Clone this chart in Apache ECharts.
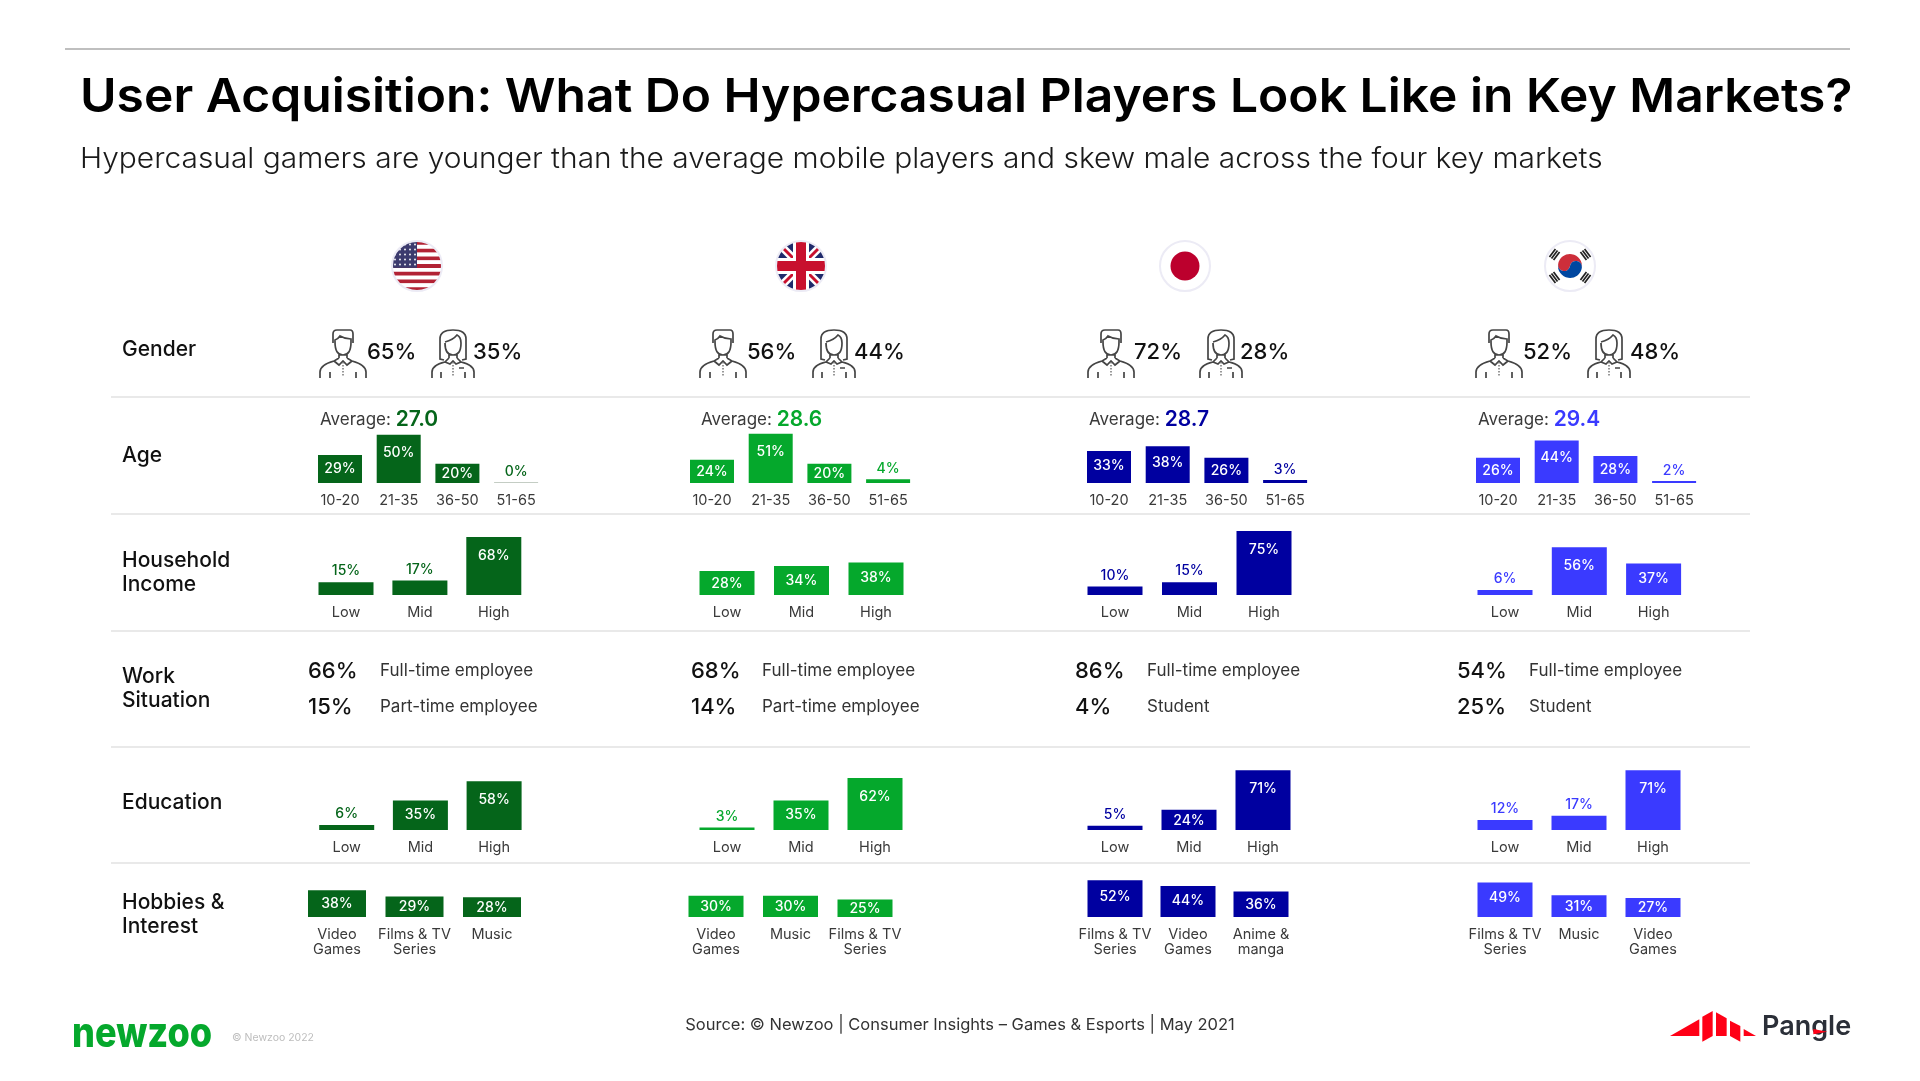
<!DOCTYPE html>
<html>
<head>
<meta charset="utf-8">
<style>html,body{margin:0;padding:0;background:#fff}#c{width:1920px;height:1081px}</style>
<script src="https://cdn.jsdelivr.net/npm/echarts@6/dist/echarts.min.js"></script>
</head>
<body>
<div id="c"></div>
<script>
// ---------- data ----------
const titleText = 'User Acquisition: What Do Hypercasual Players Look Like in Key Markets?';
const subtitleText = 'Hypercasual gamers are younger than the average mobile players and skew male across the four key markets';
const sourceText = 'Source: © Newzoo | Consumer Insights – Games & Esports | May 2021';
const countries = ['United States', 'United Kingdom', 'Japan', 'South Korea'];
const genderMale = [65, 56, 72, 52];
const genderFemale = [35, 44, 28, 48];
const ageAverage = ['27.0', '28.6', '28.7', '29.4'];
const ageBands = ['10-20', '21-35', '36-50', '51-65'];
const ageUS = [29, 50, 20, 0];
const ageUK = [24, 51, 20, 4];
const ageJP = [33, 38, 26, 3];
const ageKR = [26, 44, 28, 2];
const levels = ['Low', 'Mid', 'High'];
const incomeUS = [15, 17, 68];
const incomeUK = [28, 34, 38];
const incomeJP = [10, 15, 75];
const incomeKR = [6, 56, 37];
const workTopPct = [66, 68, 86, 54];
const workTopLabel = ['Full-time employee', 'Full-time employee', 'Full-time employee', 'Full-time employee'];
const workSecondPct = [15, 14, 4, 25];
const workSecondLabel = ['Part-time employee', 'Part-time employee', 'Student', 'Student'];
const educationUS = [6, 35, 58];
const educationUK = [3, 35, 62];
const educationJP = [5, 24, 71];
const educationKR = [12, 17, 71];
const hobbyNamesUS = ['Video\nGames', 'Films & TV\nSeries', 'Music'];
const hobbyNamesUK = ['Video\nGames', 'Music', 'Films & TV\nSeries'];
const hobbyNamesJP = ['Films & TV\nSeries', 'Video\nGames', 'Anime &\nmanga'];
const hobbyNamesKR = ['Films & TV\nSeries', 'Music', 'Video\nGames'];
const hobbyUS = [38, 29, 28];
const hobbyUK = [30, 30, 25];
const hobbyJP = [52, 44, 36];
const hobbyKR = [49, 31, 27];

// ---------- layout and style ----------
const FONT = 'Inter';
const colors = ['#05651a', '#05a82c', '#0000a0', '#3a3aff'];
const flagX = [417, 801, 1185, 1570];
const manX = [343, 723, 1111, 1499];
const manTextX = [367, 747, 1134, 1523];
const womanX = [453, 834, 1221, 1609];
const womanTextX = [473, 854, 1240, 1630];
const avgX = [320, 701, 1089, 1478];
const workPctX = [308, 691, 1075, 1457];
const workLabelX = [380, 762, 1147, 1529];

const rows = [
  {cats: [ageBands, ageBands, ageBands, ageBands], vals: [ageUS, ageUK, ageJP, ageKR], base: 483, scale: 0.967, outGap: 3,
   bar: [44, 44, 44, 44], c0: [340, 712, 1109, 1498], pitch: [58.7, 58.7, 58.7, 58.7]},
  {cats: [levels, levels, levels, levels], vals: [incomeUS, incomeUK, incomeJP, incomeKR], base: 595, scale: 0.853, outGap: 4,
   bar: [55, 55, 55, 55], c0: [346, 727, 1115, 1505], pitch: [73.9, 74.5, 74.5, 74.3]},
  {cats: [levels, levels, levels, levels], vals: [educationUS, educationUK, educationJP, educationKR], base: 830, scale: 0.84, outGap: 4,
   bar: [55, 55, 55, 55], c0: [346.7, 727, 1115, 1505], pitch: [73.7, 74, 74, 74]},
  {cats: [hobbyNamesUS, hobbyNamesUK, hobbyNamesJP, hobbyNamesKR], vals: [hobbyUS, hobbyUK, hobbyJP, hobbyKR], base: 917, scale: 0.705, outGap: 4,
   bar: [58, 55, 55, 55], c0: [337, 716, 1115, 1505], pitch: [77.5, 74.5, 73, 74]}
];

const grid = [], xAxis = [], yAxis = [], series = [];
rows.forEach(r => {
  countries.forEach((name, ci) => {
    const idx = grid.length;
    const n = r.cats[ci].length;
    const H = 100 * r.scale;
    grid.push({left: r.c0[ci] - r.pitch[ci] / 2, width: n * r.pitch[ci], top: r.base - H, height: H, containLabel: false});
    xAxis.push({type: 'category', gridIndex: idx, data: r.cats[ci],
      axisLine: {show: false}, axisTick: {show: false}, splitLine: {show: false},
      axisLabel: {show: true, interval: 0, margin: 10, fontFamily: FONT, fontSize: 14.5, lineHeight: 15, color: '#3a3a3a', hideOverlap: false}});
    yAxis.push({type: 'value', gridIndex: idx, min: 0, max: 100, show: false});
    series.push({type: 'bar', name: name, xAxisIndex: idx, yAxisIndex: idx, barWidth: r.bar[ci], barMinHeight: 1, silent: true,
      data: r.vals[ci].map(v => {
        const h = v * r.scale;
        const inside = v >= 20;
        const off = Math.min(h * 0.45, 6 + h * 0.24, 17);
        return {
          value: v,
          itemStyle: {color: v === 0 ? '#c4cdc4' : colors[ci]},
          label: {show: true, formatter: '{c}%', fontFamily: FONT, fontSize: 14, fontWeight: 500,
            position: inside ? 'insideTop' : 'top', distance: inside ? off - 5.5 : r.outGap,
            color: inside ? '#fff' : colors[ci]}
        };
      })});
  });
});

// ---------- graphics: text, rules, flags, icons, logos ----------
const reg = (name, d) => echarts.graphic.registerShape(name, echarts.graphic.extendPath(d, {}));
reg('iconMan', 'M-10 14 L-10 5 Q-10 1 -6 1 L7 1 Q10 1 10 5 L10 14 M-8 13 Q-8 26 0 26 Q8 26 8 13 L8 10 Q2 10 -3 7 Q-5 10 -8 11 Z M-4 24 L-4 29 M4 24 L4 29 M-4 29 L-9 32 L-4 36 L0 32 L4 36 L9 32 L4 29 M-9 32 Q-23 36 -23 43 L-23 49 M9 32 Q23 36 23 43 L23 49 M-13 43 L-13 49 M13 43 L13 49');
reg('iconWoman', 'M-9 31 L-13 30 L-13 10 Q-13 1 0 1 Q13 1 13 10 L13 30 L9 31 M-8 14 Q-8 26 0 26 Q8 26 8 14 Q8 8 4 6 Q0 11 -8 13 M-4 24 L-4 29 M4 24 L4 29 M-4 29 L-8 33 L-3 35 L0 32 L3 35 L8 33 L4 29 M-8 33 Q-21 36 -21 43 L-21 49 M8 33 Q21 36 21 43 L21 49 M-12 43 L-12 49 M12 43 L12 49 M6 39 L11 39');
reg('taegeukRed', 'M-12 0 A12 12 0 0 1 12 0 A6 6 0 0 0 0 0 A6 6 0 0 1 -12 0 Z');
reg('taegeukBlue', 'M12 0 A12 12 0 0 1 -12 0 A6 6 0 0 0 0 0 A6 6 0 0 1 12 0 Z');

const g = [];
const text = (x, y, t, s, extra) => g.push(Object.assign({type: 'text', x: x, y: y, silent: true,
  style: Object.assign({text: t, fontFamily: FONT, verticalAlign: 'middle', fill: '#111'}, s)}, extra || {}));
const rule = (x1, x2, y, c, w) => g.push({type: 'line', silent: true, shape: {x1: x1, x2: x2, y1: y, y2: y}, style: {stroke: c, lineWidth: w}});
const rect = (x, y, w, h, fill) => g.push({type: 'rect', silent: true, shape: {x: x, y: y, width: w, height: h}, style: {fill: fill}});
const poly = (pts, fill) => g.push({type: 'polygon', silent: true, shape: {points: pts}, style: {fill: fill}});
const seg = (x1, y1, x2, y2, c, w) => g.push({type: 'line', silent: true, shape: {x1, y1, x2, y2}, style: {stroke: c, lineWidth: w}});

rule(65, 1850, 49, '#aaaaaa', 1.5);
[397, 514, 631, 747, 863].forEach(y => rule(111, 1750, y, '#e2e2e2', 1.5));

text(80, 98, titleText, {fontSize: 47, fontWeight: 600, fill: '#000'}, {scaleX: 1.059});
text(80, 160, subtitleText, {fontSize: 28, fontWeight: 300, fill: '#1a1a1a'}, {scaleX: 1.068});

const rowLabelStyle = {fontSize: 21, fontWeight: 500, fill: '#111'};
[['Gender', 350], ['Age', 456], ['Household', 561], ['Income', 585], ['Work', 677], ['Situation', 701],
 ['Education', 803], ['Hobbies &', 903], ['Interest', 927]].forEach(a => text(122, a[1], a[0], rowLabelStyle));

const cy = 266;
countries.forEach((name, i) => {
  const cx = flagX[i];
  if (i === 0) {
    for (let s = 0; s < 13; s++) rect(cx - 25, cy - 25 + s * 50 / 13, 50, 50 / 13 + 0.3, s % 2 ? '#ffffff' : '#b22234');
    rect(cx - 25, cy - 25, 25, 26.9, '#3c3b6e');
    for (let a = 0; a < 5; a++) for (let b = 0; b < 5; b++)
      g.push({type: 'circle', silent: true, shape: {cx: cx - 22 + b * 5, cy: cy - 21.5 + a * 5, r: 0.9}, style: {fill: '#fff'}});
  } else if (i === 1) {
    rect(cx - 25, cy - 25, 50, 50, '#1f2a6b');
    seg(cx - 25, cy - 25, cx + 25, cy + 25, '#fff', 8);
    seg(cx - 25, cy + 25, cx + 25, cy - 25, '#fff', 8);
    seg(cx - 25, cy - 25, cx + 25, cy + 25, '#c8102e', 3);
    seg(cx - 25, cy + 25, cx + 25, cy - 25, '#c8102e', 3);
    rect(cx - 25, cy - 8, 50, 16, '#fff');
    rect(cx - 8, cy - 25, 16, 50, '#fff');
    rect(cx - 25, cy - 5, 50, 10, '#c8102e');
    rect(cx - 5, cy - 25, 10, 50, '#c8102e');
  } else if (i === 2) {
    g.push({type: 'circle', silent: true, shape: {cx: cx, cy: cy, r: 14.5}, style: {fill: '#bc002d'}});
  } else {
    g.push({type: 'taegeukRed', silent: true, x: cx, y: cy, rotation: -0.15, style: {fill: '#cd2e3a'}});
    g.push({type: 'taegeukBlue', silent: true, x: cx, y: cy, rotation: -0.15, style: {fill: '#0047a0'}});
    [[-1, -1], [1, -1], [-1, 1], [1, 1]].forEach(p => {
      const mx = cx + p[0] * 15.5, my = cy + p[1] * 11.5;
      const dx = -p[1] * 0.6, dy = p[0] * 0.8;
      [-1, 0, 1].forEach(k => {
        const ox = p[0] * 0.8 * k * 2.6, oy = p[1] * 0.6 * k * 2.6;
        seg(mx + ox - dx * 5, my + oy - dy * 5, mx + ox + dx * 5, my + oy + dy * 5, '#222', 1.7);
      });
    });
  }
  g.push({type: 'circle', silent: true, shape: {cx: cx, cy: cy, r: 33}, style: {fill: 'none', stroke: '#fff', lineWidth: 16}});
  g.push({type: 'circle', silent: true, shape: {cx: cx, cy: cy, r: 25}, style: {fill: 'none', stroke: '#ecebf5', lineWidth: 2}});

  const iconStyle = {fill: 'none', stroke: '#454545', lineWidth: 1.7};
  g.push({type: 'iconMan', silent: true, x: manX[i], y: 329, style: iconStyle});
  g.push({type: 'iconWoman', silent: true, x: womanX[i], y: 329, style: iconStyle});
  seg(manX[i], 362, manX[i], 376, '#777', 1.5);
  seg(womanX[i], 362, womanX[i], 376, '#777', 1.5);
  g[g.length - 1].style.lineDash = g[g.length - 2].style.lineDash = [1.5, 1.5];

  const pctStyle = {fontSize: 22, fontWeight: 500, fill: '#111'};
  text(manTextX[i], 352, genderMale[i] + '%', pctStyle);
  text(womanTextX[i], 352, genderFemale[i] + '%', pctStyle);

  g.push({type: 'text', x: avgX[i], y: 420, silent: true, style: {
    text: '{a|Average: }{b|' + ageAverage[i] + '}', verticalAlign: 'middle',
    rich: {a: {fontFamily: FONT, fontSize: 17, fill: '#3a3a3a', color: '#3a3a3a'},
           b: {fontFamily: FONT, fontSize: 21, fontWeight: 600, fill: colors[i], color: colors[i]}}}});

  text(workPctX[i], 671, workTopPct[i] + '%', pctStyle);
  text(workPctX[i], 707, workSecondPct[i] + '%', pctStyle);
  text(workLabelX[i], 671, workTopLabel[i], {fontSize: 17, fill: '#333'});
  text(workLabelX[i], 707, workSecondLabel[i], {fontSize: 17, fill: '#333'});
});

text(72, 1035, 'newzoo', {fontSize: 41, fontWeight: 800, fill: '#05a82c'}, {scaleX: 0.88});
text(232, 1038, '© Newzoo 2022', {fontSize: 10.5, fill: '#bdbdbd'});
g.push({type: 'text', x: 960, y: 1025, silent: true, style: {text: sourceText, fontFamily: FONT, fontSize: 16.5, fill: '#333', align: 'center', verticalAlign: 'middle'}});

const L = (x, y) => [1400 + x / 3, 960 + y / 3];
const red = '#ff0016';
poly([L(810, 228), L(898, 178), L(898, 228)], red);
poly([L(907, 170), L(938, 153), L(938, 228), L(907, 245)], red);
poly([L(948, 157), L(980, 175), L(980, 228), L(948, 228)], red);
poly([L(990, 182), L(1021, 198), L(1021, 245), L(990, 228)], red);
poly([L(1031, 207), L(1068, 228), L(1031, 228)], red);
text(1762, 1027, 'Pangle', {fontSize: 27, fontWeight: 600, fill: '#2b2f38'});
poly([L(1240, 207), L(1282, 215), L(1240, 223)], red);

const chart = echarts.init(document.getElementById('c'), null, {renderer: 'canvas', width: 1920, height: 1081});
chart.setOption({
  animation: false,
  backgroundColor: '#ffffff',
  tooltip: {show: false},
  grid: grid, xAxis: xAxis, yAxis: yAxis, series: series,
  graphic: {elements: g}
});
</script>
</body>
</html>
